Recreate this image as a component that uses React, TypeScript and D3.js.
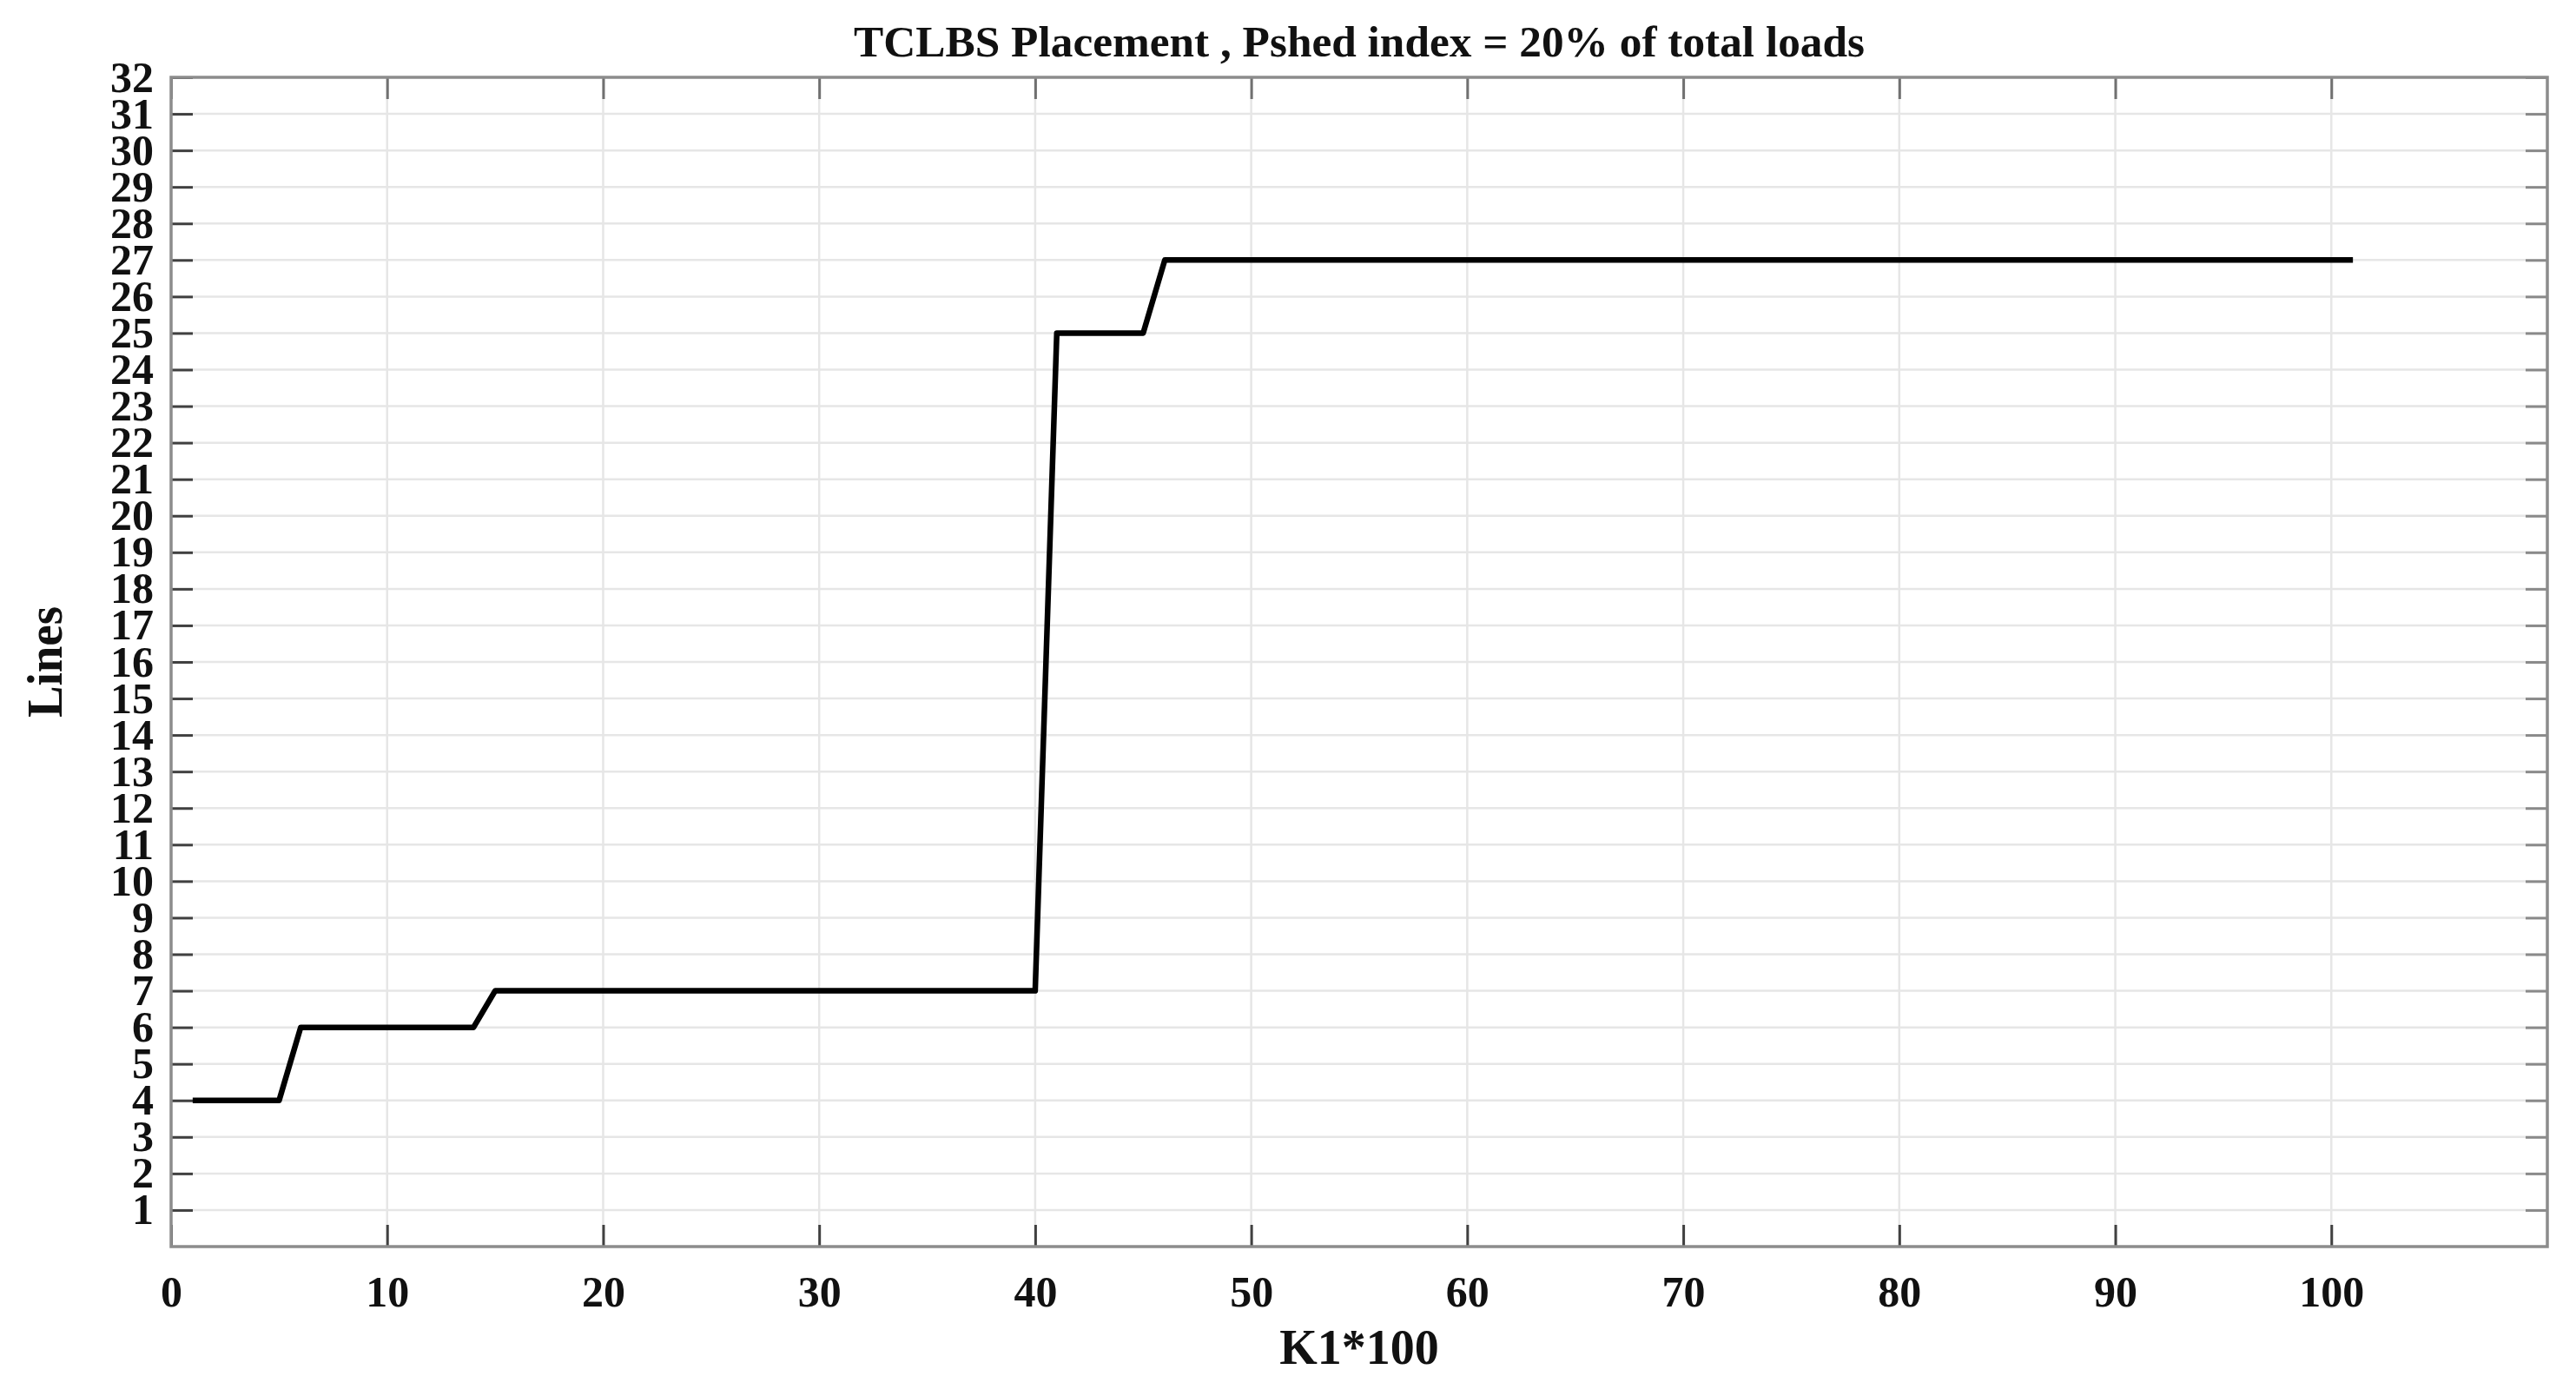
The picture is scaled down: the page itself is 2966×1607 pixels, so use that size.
import React, { useEffect, useRef } from 'react';
import * as d3 from 'd3';

// step vertices (K1*100 -> number of lines)
const kValues = [1, 5, 6, 14, 15, 40, 41, 45, 46, 101];
const lineCounts = [4, 4, 6, 6, 7, 7, 25, 25, 27, 27];

const xTicks = [0, 10, 20, 30, 40, 50, 60, 70, 80, 90, 100];
const yTicks = d3.range(1, 33);

const titleText = 'TCLBS Placement , Pshed index = 20% of total loads';
const xLabel = 'K1*100';
const yLabel = 'Lines';

export default function App() {
  const svgRef = useRef<SVGSVGElement>(null);

  useEffect(() => {
    document.body.style.margin = '0';
    document.body.style.overflow = 'hidden';
    if (!svgRef.current) return;

    const width = 2966;
    const height = 1607;
    const margin = { top: 89, right: 33, bottom: 172, left: 197 };
    const innerW = width - margin.left - margin.right;
    const innerH = height - margin.top - margin.bottom;
    const font = '"Liberation Serif", "Times New Roman", serif';

    const svg = d3.select(svgRef.current);
    svg.selectAll('*').remove();
    svg.attr('width', width).attr('height', height).attr('viewBox', [0, 0, width, height]);

    svg.append('rect').attr('width', width).attr('height', height).attr('fill', '#fff');

    const x = d3.scaleLinear().domain([0, 110]).range([0, innerW]);
    const y = d3.scaleLinear().domain([0, 32]).range([innerH, 0]);

    const g = svg.append('g').attr('transform', `translate(${margin.left},${margin.top})`);

    // grid
    g.append('g')
      .selectAll('line')
      .data(xTicks.filter((d) => d > 0))
      .join('line')
      .attr('x1', (d) => x(d))
      .attr('x2', (d) => x(d))
      .attr('y1', 0)
      .attr('y2', innerH)
      .attr('stroke', '#e6e6e6')
      .attr('stroke-width', 2.5);

    g.append('g')
      .selectAll('line')
      .data(yTicks.filter((d) => d < 32))
      .join('line')
      .attr('x1', 0)
      .attr('x2', innerW)
      .attr('y1', (d) => y(d))
      .attr('y2', (d) => y(d))
      .attr('stroke', '#e6e6e6')
      .attr('stroke-width', 2.5);

    // axes (inward ticks)
    const styleAxis = (sel: any, color: string) => {
      sel.select('.domain').remove();
      sel.selectAll('.tick line').attr('stroke', color).attr('stroke-width', 3);
      sel.selectAll('.tick text')
        .attr('fill', '#111')
        .style('font-family', font)
        .style('font-weight', 'bold')
        .style('font-size', '50px');
    };

    g.append('g')
      .attr('transform', `translate(0,${innerH})`)
      .call(d3.axisBottom(x).tickValues(xTicks).tickSize(-25).tickPadding(33).tickFormat(d3.format('d')))
      .call((s) => styleAxis(s, '#404040'));

    g.append('g')
      .call(d3.axisLeft(y).tickValues(yTicks).tickSize(-25).tickPadding(20).tickFormat(d3.format('d')))
      .call((s) => styleAxis(s, '#404040'));

    g.append('g')
      .call(d3.axisTop(x).tickValues(xTicks).tickSize(-25).tickFormat(() => ''))
      .call((s) => styleAxis(s, '#707070'));

    g.append('g')
      .attr('transform', `translate(${innerW},0)`)
      .call(d3.axisRight(y).tickValues(yTicks).tickSize(-25).tickFormat(() => ''))
      .call((s) => styleAxis(s, '#8a8a8a'));

    // box
    g.append('rect')
      .attr('width', innerW)
      .attr('height', innerH)
      .attr('fill', 'none')
      .attr('stroke', '#8c8c8c')
      .attr('stroke-width', 3.5);

    // data line
    const pts = kValues.map((k, i) => [k, lineCounts[i]] as [number, number]);
    const line = d3.line<[number, number]>()
      .x((d) => x(d[0]))
      .y((d) => y(d[1]));

    g.append('path')
      .attr('d', line(pts))
      .attr('fill', 'none')
      .attr('stroke', '#000')
      .attr('stroke-width', 6.5)
      .attr('stroke-linejoin', 'round');

    // title and labels
    svg.append('text')
      .attr('x', margin.left + innerW / 2)
      .attr('y', 65)
      .attr('text-anchor', 'middle')
      .attr('textLength', 1164)
      .attr('lengthAdjust', 'spacingAndGlyphs')
      .style('font-family', font)
      .style('font-weight', 'bold')
      .style('font-size', '50px')
      .attr('fill', '#111')
      .text(titleText);

    svg.append('text')
      .attr('x', margin.left + innerW / 2)
      .attr('y', 1570)
      .attr('text-anchor', 'middle')
      .style('font-family', font)
      .style('font-weight', 'bold')
      .style('font-size', '56px')
      .attr('fill', '#111')
      .text(xLabel);

    svg.append('text')
      .attr('transform', `translate(71,${margin.top + innerH / 2}) rotate(-90)`)
      .attr('text-anchor', 'middle')
      .attr('textLength', 128)
      .attr('lengthAdjust', 'spacingAndGlyphs')
      .style('font-family', font)
      .style('font-weight', 'bold')
      .style('font-size', '58px')
      .attr('fill', '#111')
      .text(yLabel);
  }, []);

  return <svg ref={svgRef} style={{ display: 'block' }} />;
}
